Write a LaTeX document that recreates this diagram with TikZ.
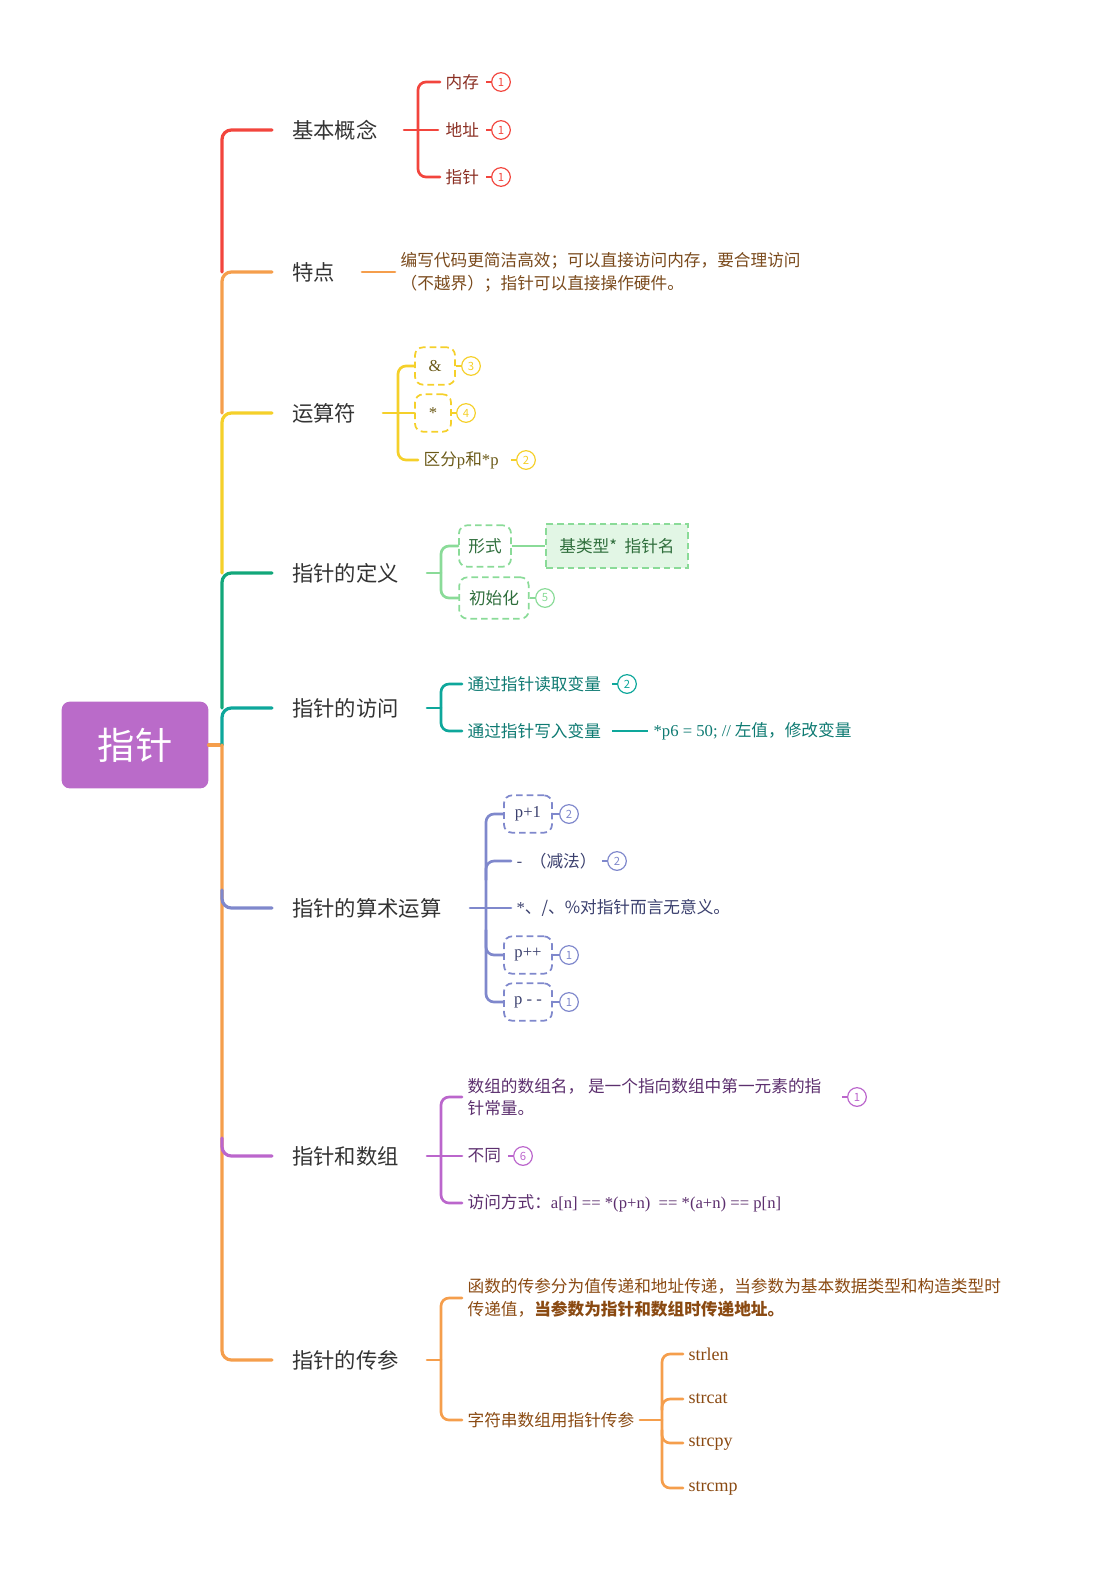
\documentclass[tikz,border=0pt]{standalone}
\usepackage{fontspec}
\setmainfont{Noto Sans CJK SC}
\newfontfamily\lat{Liberation Serif}
\begin{document}
\begin{tikzpicture}[x=0.75pt,y=-0.75pt,
  br/.style={line width=2.4pt,line cap=round,rounded corners=7pt},
  sb/.style={line width=2pt,line cap=round,rounded corners=6pt},
  main/.style={anchor=west,inner sep=0pt,font=\fontsize{16}{19}\selectfont,text=black!80},
  kid/.style={anchor=west,inner xsep=4pt,inner ysep=1pt,font=\fontsize{12.5}{15}\selectfont},
  dbox/.style={draw,dashed,line width=1.3pt,rounded corners=6pt,dash pattern=on 5pt off 3pt,font=\fontsize{12.5}{15}\selectfont,inner sep=0pt},
  badge/.style={circle,draw,line width=0.9pt,minimum size=14pt,inner sep=0pt,font=\fontsize{8.5}{9}\selectfont},
]
\definecolor{cR}{HTML}{F2453D}\definecolor{cO}{HTML}{F59E4C}\definecolor{cY}{HTML}{F5D02A}
\definecolor{cG}{HTML}{12A77A}\definecolor{cLG}{HTML}{8ADB98}\definecolor{cT}{HTML}{0EA79B}
\definecolor{cB}{HTML}{7F88CC}\definecolor{cP}{HTML}{BB66CC}\definecolor{cRoot}{HTML}{BA6BC9}
\definecolor{tR}{HTML}{8A2E22}\definecolor{tO}{HTML}{7A4A1C}\definecolor{tY}{HTML}{6B5A18}
\definecolor{tG}{HTML}{2F6E3C}\definecolor{tT}{HTML}{0E7A72}\definecolor{tB}{HTML}{3B406E}
\definecolor{tP}{HTML}{5C2F6E}\definecolor{tO2}{HTML}{8A4A12}
\useasboundingbox (0,0) rectangle (1106,1581);

% root
\node[fill=cRoot,rounded corners=6pt,minimum width=110pt,minimum height=65pt,text=white,font=\fontsize{28}{30}\selectfont] (root) at (135,745) {指针};
\coordinate (sp) at (222,745);
% main labels
\node[main] (b1) at (292,130) {基本概念};
\node[main] (b2) at (292,272) {特点};
\node[main] (b3) at (292,413) {运算符};
\node[main] (b4) at (292,573) {指针的定义};
\node[main] (b5) at (292,708) {指针的访问};
\node[main] (b6) at (292,908) {指针的算术运算};
\node[main] (b7) at (292,1156) {指针和数组};
\node[main] (b8) at (292,1360) {指针的传参};
% spine branches
\draw[br,cO] (root.east) -- (sp);
\draw[br,cR] (222,272) |- (272,130);
\draw[br,cO] (222,413) |- (272,272);
\draw[br,cY] (222,573) |- (272,413);
\draw[br,cG] (222,708) |- (272,573);
\draw[br,cT] (sp) |- (272,708);
\draw[br,cO] (sp) |- (272,1360);
\draw[br,cB] (222,890) |- (272,908);
\draw[br,cP] (222,1138) |- (272,1156);

% ---- 1
\node[kid,text=tR] (c11) at (440,82) {内存};
\node[kid,text=tR] (c12) at (440,130) {地址};
\node[kid,text=tR] (c13) at (440,177) {指针};
\draw[sb,cR] (404,130) -- (438,130);
\draw[sb,cR] (c11.west) -| (418,130) |- (c13.west);
\node[badge,draw=cR,text=cR] (bd11) at (501,82) {1};
\node[badge,draw=cR,text=cR] (bd12) at (501,130) {1};
\node[badge,draw=cR,text=cR] (bd13) at (501,177) {1};
\foreach \n in {bd11,bd12,bd13}{\draw[cR,line width=1pt] (\n.west) -- ++(-5,0);}

% ---- 2
\node[kid,text=tO,align=left,font=\fontsize{12.5}{17}\selectfont] (c21) at (395,272) {编写代码更简洁高效；可以直接访问内存，要合理访问\\（不越界）；指针可以直接操作硬件。};
\draw[sb,cO] (362,272) -- (c21.west);

% ---- 3
\node[dbox,draw=cY,text=tY,minimum width=30pt,minimum height=28pt] (c31) at (435,366) {{\lat\&}};
\node[dbox,draw=cY,text=tY,minimum width=27pt,minimum height=28pt] (c32) at (433,413) {{\lat *}};
\node[kid,text=tY] (c33) at (418,460) {区分{\lat p}和{\lat *p}};
\draw[sb,cY] (383,413) -- (c32.west);
\draw[sb,cY] (c31.west) -| (398,413) |- (c33.west);
\node[badge,draw=cY,text=cY] (bd31) at (471,366) {3}; \draw[cY,line width=1pt] (bd31.west) -- (c31.east);
\node[badge,draw=cY,text=cY] (bd32) at (466,413) {4}; \draw[cY,line width=1pt] (bd32.west) -- (c32.east);
\node[badge,draw=cY,text=cY] (bd33) at (526,460) {2}; \draw[cY,line width=1pt] (bd33.west) -- ++(-5,0);

% ---- 4
\node[dbox,draw=cLG,text=tG,minimum width=39pt,minimum height=31pt] (c41) at (485,546) {形式};
\node[dbox,draw=cLG,text=tG,minimum width=52pt,minimum height=31pt] (c42) at (494,598) {初始化};
\node[dbox,draw=cLG,text=tG,fill=cLG!25,rounded corners=0pt,minimum width=106pt,minimum height=33pt] (c43) at (617,546) {基类型*\ \ 指针名};
\draw[sb,cLG] (427,573) -- (441,573);
\draw[sb,cLG] (c41.west) -| (441,573) |- (c42.west);
\draw[cLG,line width=1.3pt] (c41.east) -- (c43.west);
\node[badge,draw=cLG,text=cLG] (bd42) at (545,598) {5}; \draw[cLG,line width=1pt] (bd42.west) -- (c42.east);

% ---- 5
\node[kid,text=tT] (c51) at (462,684) {通过指针读取变量};
\node[kid,text=tT] (c52) at (462,731) {通过指针写入变量};
\node[kid,text=tT] (c53) at (648,731) {{\lat *p6 = 50; //} 左值，修改变量};
\draw[sb,cT] (427,708) -- (441,708);
\draw[sb,cT] (c51.west) -| (441,708) |- (c52.west);
\node[badge,draw=cT,text=cT] (bd51) at (627,684) {2}; \draw[cT,line width=1pt] (bd51.west) -- ++(-5,0);
\draw[cT,line width=1.5pt] (612,731) -- (c53.west);

% ---- 6
\node[dbox,draw=cB,text=tB,minimum width=36pt,minimum height=28pt] (c61) at (528,814) {{\lat p+1}};
\node[kid,text=tB] (c62) at (511,861) {-\ \ （减法）};
\node[kid,text=tB] (c63) at (511,908) {{\lat *}、/、\%对指针而言无意义。};
\node[dbox,draw=cB,text=tB,minimum width=36pt,minimum height=28pt] (c64) at (528,955) {{\lat p++}};
\node[dbox,draw=cB,text=tB,minimum width=36pt,minimum height=28pt] (c65) at (528,1002) {{\lat p - -}};
\draw[sb,cB] (470,908) -- (c63.west);
\draw[sb,cB] (c61.west) -| (486,908) |- (c65.west);
\draw[sb,cB] (486,880) |- (c62.west);
\draw[sb,cB] (486,930) |- (c64.west);
\node[badge,draw=cB,text=cB] (bd61) at (569,814) {2}; \draw[cB,line width=1pt] (bd61.west) -- (c61.east);
\node[badge,draw=cB,text=cB] (bd62) at (617,861) {2}; \draw[cB,line width=1pt] (bd62.west) -- ++(-5,0);
\node[badge,draw=cB,text=cB] (bd64) at (569,955) {1}; \draw[cB,line width=1pt] (bd64.west) -- (c64.east);
\node[badge,draw=cB,text=cB] (bd65) at (569,1002) {1}; \draw[cB,line width=1pt] (bd65.west) -- (c65.east);

% ---- 7
\node[kid,text=tP,align=left,font=\fontsize{12.5}{17}\selectfont] (c71) at (462,1097) {数组的数组名， 是一个指向数组中第一元素的指\\针常量。};
\node[kid,text=tP] (c72) at (462,1156) {不同};
\node[kid,text=tP] (c73) at (462,1203) {访问方式：{\lat a[n] == *(p+n)\ \ == *(a+n) == p[n]}};
\draw[sb,cP] (427,1156) -- (c72.west);
\draw[sb,cP] (c71.west) -| (441,1156) |- (c73.west);
\node[badge,draw=cP,text=cP] (bd71) at (857,1097) {1}; \draw[cP,line width=1pt] (bd71.west) -- ++(-5,0);
\node[badge,draw=cP,text=cP] (bd72) at (523,1156) {6}; \draw[cP,line width=1pt] (bd72.west) -- ++(-5,0);

% ---- 8
\node[kid,text=tO2,align=left,font=\fontsize{12.5}{17}\selectfont] (c81) at (462,1298) {函数的传参分为值传递和地址传递，当参数为基本数据类型和构造类型时\\传递值，\textbf{当参数为指针和数组时传递地址。}};
\node[kid,text=tO2] (c82) at (462,1420) {字符串数组用指针传参};
\draw[sb,cO] (427,1360) -- (441,1360);
\draw[sb,cO] (c81.west) -| (441,1360) |- (c82.west);
\node[kid,text=tO2,font=\fontsize{13.5}{15}\selectfont\lat] (d1) at (683,1354) {strlen};
\node[kid,text=tO2,font=\fontsize{13.5}{15}\selectfont\lat] (d2) at (683,1399) {strcat};
\node[kid,text=tO2,font=\fontsize{13.5}{15}\selectfont\lat] (d3) at (683,1443) {strcpy};
\node[kid,text=tO2,font=\fontsize{13.5}{15}\selectfont\lat] (d4) at (683,1488) {strcmp};
\draw[sb,cO] (c82.east) -- (662,1420);
\draw[sb,cO] (d1.west) -| (662,1420) |- (d4.west);
\draw[sb,cO] (662,1410) |- (d2.west);
\draw[sb,cO] (662,1430) |- (d3.west);
\end{tikzpicture}
\end{document}
